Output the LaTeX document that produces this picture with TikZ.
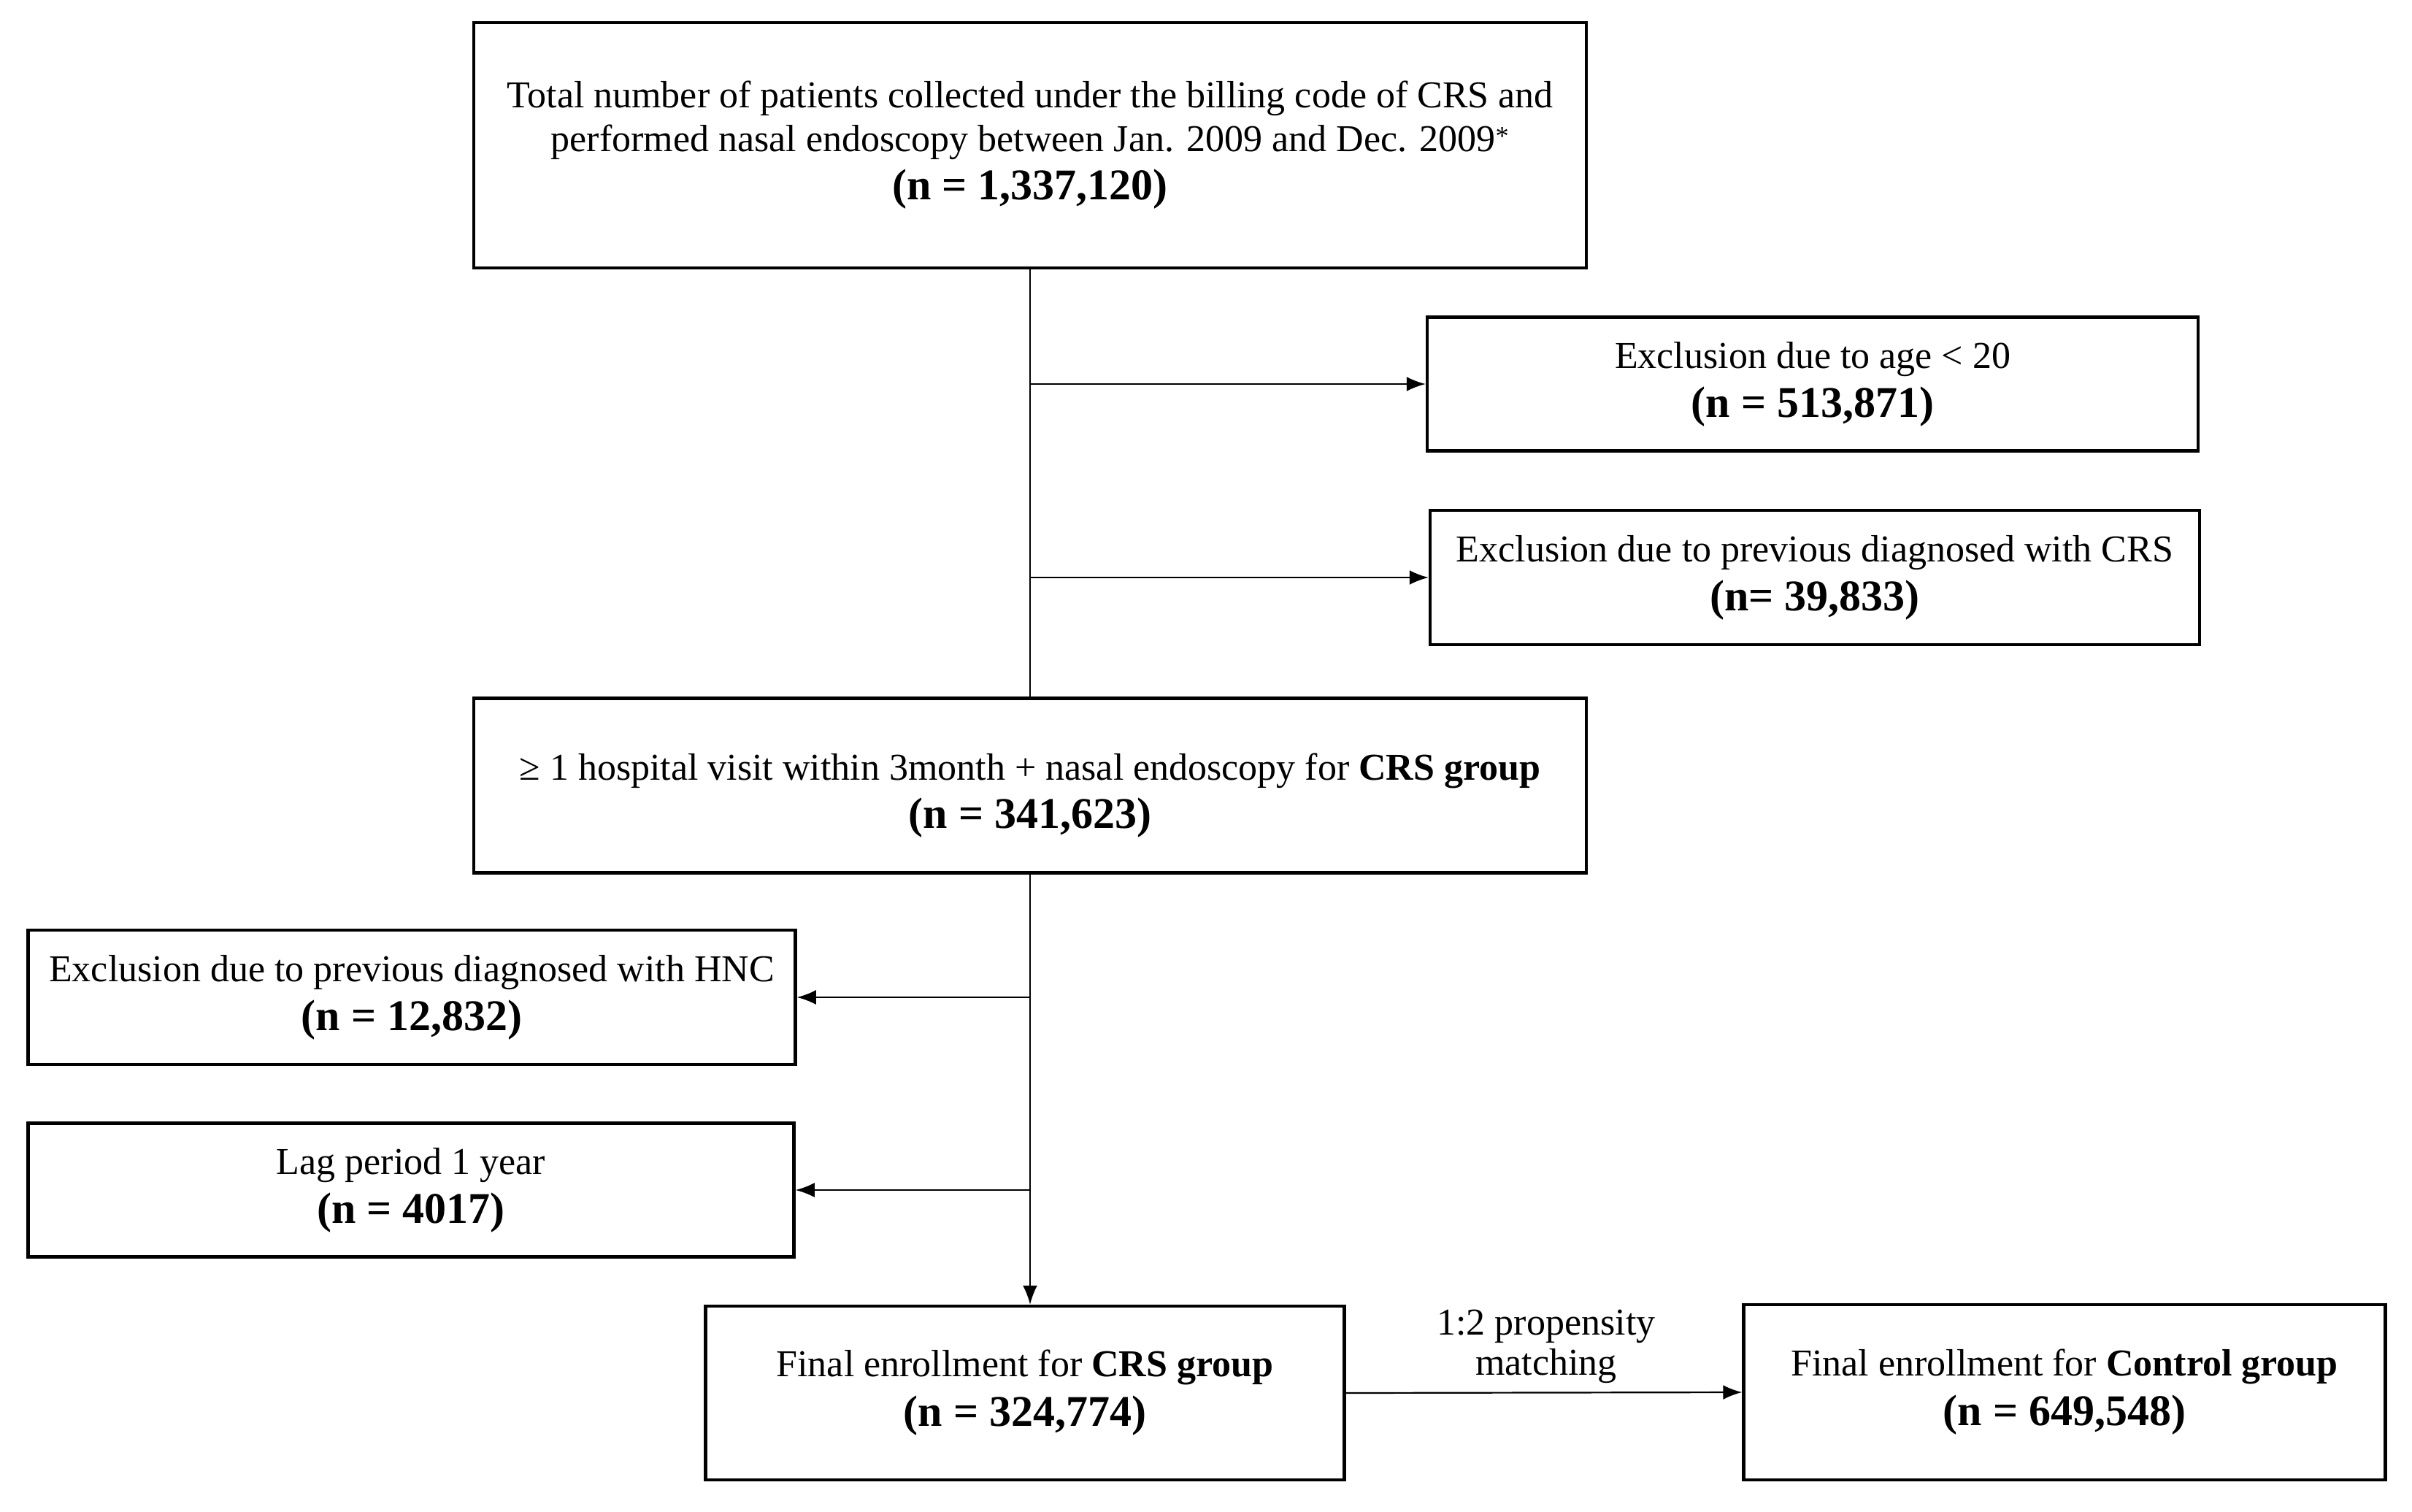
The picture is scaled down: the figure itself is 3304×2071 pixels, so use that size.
\documentclass[tikz,border=0pt]{standalone}
\usepackage{fontspec}
\setmainfont{Liberation Serif}
\usetikzlibrary{arrows.meta}
\newcommand{\nnum}[1]{{\fontsize{60}{64}\selectfont\bfseries #1}}
\tikzset{
  box/.style={draw=black, line width=4.5pt, fill=white, align=center, inner sep=0pt, font=\fontsize{52}{60}\selectfont},
  lbl/.style={align=center, inner sep=0pt, font=\fontsize{52}{55}\selectfont},
  conn/.style={line width=2.2pt, draw=black},
  arr/.style={conn, -{Latex[length=26pt,width=20pt]}}
}
\begin{document}
\begin{tikzpicture}[x=1pt,y=-1pt]
\useasboundingbox[fill=white] (0,0) rectangle (3304,2071);
\node[box, minimum width=1524pt, minimum height=336pt] (top) at (1411,199)
  {Total number of patients collected under the billing code of CRS and\\
   performed nasal endoscopy between Jan. 2009 and Dec. 2009\textsuperscript{*}\\[6pt]
   \nnum{(n = 1,337,120)}};
\node[box, minimum width=1056pt, minimum height=183pt] (age) at (2483,526)
  {Exclusion due to age \textless{} 20\\[7pt] \nnum{(n = 513,871)}};
\node[box, minimum width=1054pt, minimum height=184pt] (prev) at (2486,791)
  {Exclusion due to previous diagnosed with CRS\\[7pt] \nnum{(n= 39,833)}};
\node[box, minimum width=1524pt, minimum height=239pt] (hosp) at (1411,1076)
  {\rule{0pt}{64pt}≥ 1 hospital visit within 3month + nasal endoscopy for \textbf{CRS group}\\[6pt] \nnum{(n = 341,623)}};
\node[box, minimum width=1051pt, minimum height=184pt] (hnc) at (564,1366)
  {Exclusion due to previous diagnosed with HNC\\[7pt] \nnum{(n = 12,832)}};
\node[box, minimum width=1049pt, minimum height=183pt] (lag) at (563,1630)
  {Lag period 1 year\\[7pt] \nnum{(n = 4017)}};
\node[box, minimum width=875pt, minimum height=238pt] (final) at (1404,1908)
  {Final enrollment for \textbf{CRS group}\\[8pt] \nnum{(n = 324,774)}};
\node[box, minimum width=879pt, minimum height=240pt] (ctrl) at (2828,1907)
  {Final enrollment for \textbf{Control group}\\[8pt] \nnum{(n = 649,548)}};
\node[lbl] (match) at (2118,1844) {1:2 propensity\\ matching};
\draw[conn] (top.south) -- (hosp.north);
\draw[arr] (top.south |- age.west) -- (age.west);
\draw[arr] (top.south |- prev.west) -- (prev.west);
\draw[arr] (hosp.south) -- (hosp.south |- final.north);
\draw[arr] (hosp.south |- hnc.east) -- (hnc.east);
\draw[arr] (hosp.south |- lag.east) -- (lag.east);
\draw[arr] (final.east) -- (ctrl.west);
\end{tikzpicture}
\end{document}
